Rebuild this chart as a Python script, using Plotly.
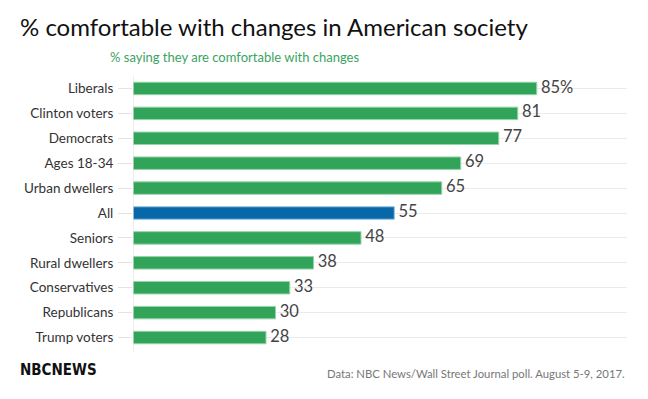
import plotly.graph_objects as go

categories = ["Liberals", "Clinton voters", "Democrats", "Ages 18-34", "Urban dwellers",
              "All", "Seniors", "Rural dwellers", "Conservatives", "Republicans", "Trump voters"]
values = [85, 81, 77, 69, 65, 55, 48, 38, 33, 30, 28]
value_labels = ["85%", "81", "77", "69", "65", "55", "48", "38", "33", "30", "28"]
highlight = "All"

GREEN = "#31a45a"
BLUE = "#0767a8"
colors = [BLUE if c == highlight else GREEN for c in categories]
line_colors = ["#8fbfe0" if c == highlight else "#97d3aa" for c in categories]

FONT = "Lato, 'Open Sans', sans-serif"

fig = go.Figure()
fig.add_trace(go.Bar(
    x=values, y=categories, orientation="h",
    marker=dict(color=colors, line=dict(color=line_colors, width=1)),
    hoverinfo="skip",
))
fig.add_trace(go.Scatter(
    x=values, y=categories, mode="text",
    text=[" " + t for t in value_labels], textposition="middle right", cliponaxis=False,
    textfont=dict(size=16.5, color="#444444", family=FONT),
    hoverinfo="skip",
))

fig.update_layout(
    width=648, height=399,
    margin=dict(l=133, r=21, t=76, b=49),
    paper_bgcolor="white", plot_bgcolor="white",
    bargap=0.5,
    showlegend=False,
    font=dict(family=FONT, color="#333333"),
    title=dict(text="% comfortable with changes in American society",
               x=20 / 648, xanchor="left", xref="container", y=1 - 28 / 399, yanchor="middle",
               yref="container",
               font=dict(size=24, color="#111111", family=FONT)),
)
fig.update_xaxes(range=[0, 104], showgrid=False, zeroline=False, showticklabels=False,
                 showline=False, fixedrange=True, automargin=False)
fig.update_yaxes(range=[10.5, -0.5], showgrid=True, gridcolor="#ebebeb", gridwidth=1,
                 ticks="outside", ticklen=14, tickcolor="#e3e3e3", ticklabelstandoff=2,
                 tickfont=dict(size=13.5, color="#333333", family=FONT),
                 showline=False, zeroline=False, automargin=False, fixedrange=True)

# vertical axis line
fig.add_shape(type="line", xref="x", yref="paper", x0=0, x1=0, y0=-0.01, y1=1.0,
              line=dict(color="#dddddd", width=1), layer="above")

fig.add_annotation(text="% saying they are comfortable with changes", xref="paper", yref="paper",
                   x=(108 - 133) / (648 - 154), xanchor="left", y=1 + 19 / 274, yanchor="middle",
                   showarrow=False, font=dict(size=13, color="#3aa35f", family=FONT))
fig.add_annotation(text="<b>NBCNEWS</b>", xref="paper", yref="paper",
                   x=(18 - 133) / (648 - 154), xanchor="left", y=-(370 - 350) / 274, yanchor="middle",
                   showarrow=False, font=dict(size=15, color="#111111", family="'Liberation Sans Narrow', 'DejaVu Sans Condensed', sans-serif"))
fig.add_annotation(text="Data: NBC News/Wall Street Journal poll. August 5-9, 2017.", xref="paper", yref="paper",
                   x=1.0, xanchor="right", y=-(373 - 350) / 274, yanchor="middle",
                   showarrow=False, font=dict(size=11.3, color="#777777", family=FONT))

fig.write_html("out.html", config={"displayModeBar": False},
               post_script="document.body.style.margin='0';document.body.style.padding='0';")
